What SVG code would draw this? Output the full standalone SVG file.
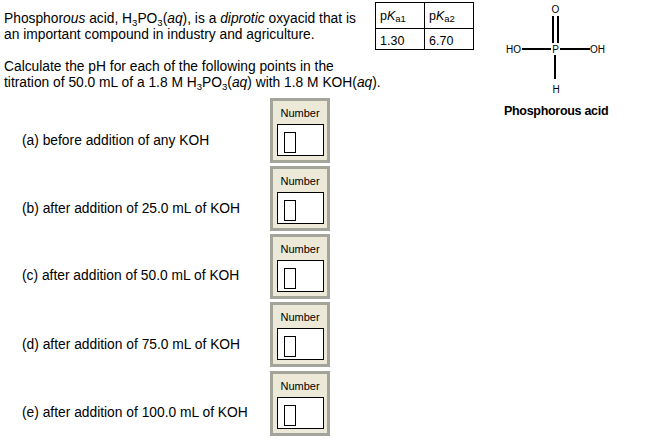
<svg xmlns="http://www.w3.org/2000/svg" width="661" height="443" viewBox="0 0 661 443">
<style>
text{font-family:"Liberation Sans",Arial,sans-serif;font-size:13.8px;fill:#000}
.s{font-size:9.5px}
.num{font-size:11px}
.t{font-size:12.5px}
.m{font-size:10px}
.box{fill:#ece9d8;stroke:#a3a59a;stroke-width:3}
.in{fill:#fff;stroke:#000;stroke-width:1}
.b{stroke:#000;stroke-width:2}
</style>
<rect width="661" height="443" fill="#fff"/>
<text x="4" y="23">Phosphor<tspan font-style="italic">ous</tspan> acid, H<tspan class="s" dy="3">3</tspan><tspan dy="-3">PO</tspan><tspan class="s" dy="3">3</tspan><tspan dy="-3">(</tspan><tspan font-style="italic">aq</tspan>), is a <tspan font-style="italic">diprotic</tspan> oxyacid that is</text>
<text x="4" y="39">an important compound in industry and agriculture.</text>
<text x="4" y="71">Calculate the pH for each of the following points in the</text>
<text x="4" y="87">titration of 50.0 mL of a 1.8 M H<tspan class="s" dy="3">3</tspan><tspan dy="-3">PO</tspan><tspan class="s" dy="3">3</tspan><tspan dy="-3">(</tspan><tspan font-style="italic">aq</tspan>) with 1.8 M KOH(<tspan font-style="italic">aq</tspan>).</text>
<g id="table" fill="none" stroke="#000">
<rect x="375.5" y="2.5" width="98" height="47"/>
<line x1="424.5" y1="2" x2="424.5" y2="50"/>
<line x1="375" y1="28.5" x2="474" y2="28.5"/>
</g>
<text class="t" x="380" y="20">p<tspan font-style="italic">K</tspan><tspan class="s" dy="2">a1</tspan></text>
<text class="t" x="429" y="20">p<tspan font-style="italic">K</tspan><tspan class="s" dy="2">a2</tspan></text>
<text class="t" x="380" y="45">1.30</text>
<text class="t" x="429" y="45">6.70</text>
<g id="molecule">
<line class="b" x1="553" y1="16" x2="553" y2="43"/>
<line class="b" x1="558" y1="16" x2="558" y2="43"/>
<line class="b" x1="522" y1="49" x2="551" y2="49"/>
<line class="b" x1="560" y1="49" x2="590" y2="49"/>
<line class="b" x1="555" y1="55" x2="555" y2="79"/>
<text class="m" x="555.5" y="13" text-anchor="middle">O</text>
<text class="m" x="555.5" y="53" text-anchor="middle">P</text>
<text class="m" x="506" y="53">HO</text>
<text class="m" x="590" y="53">OH</text>
<text class="m" x="556" y="93" text-anchor="middle">H</text>
<text x="504" y="115" style="font-weight:bold;font-size:12.5px;letter-spacing:-0.3px">Phosphorous acid</text>
</g>
<g id="a"><text x="22" y="145">(a) before addition of any KOH</text>
<rect class="box" x="271.5" y="99.5" width="57" height="62"/><text class="num" x="300" y="117" text-anchor="middle">Number</text><rect class="in" x="277.5" y="124.5" width="46" height="31"/><rect class="in" x="284.5" y="132.5" width="11" height="20"/></g>
<g id="b"><text x="22" y="213">(b) after addition of 25.0 mL of KOH</text>
<rect class="box" x="271.5" y="167.5" width="57" height="62"/><text class="num" x="300" y="185" text-anchor="middle">Number</text><rect class="in" x="277.5" y="192.5" width="46" height="31"/><rect class="in" x="284.5" y="200.5" width="11" height="20"/></g>
<g id="c"><text x="22" y="280">(c) after addition of 50.0 mL of KOH</text>
<rect class="box" x="271.5" y="235.5" width="57" height="62"/><text class="num" x="300" y="253" text-anchor="middle">Number</text><rect class="in" x="277.5" y="260.5" width="46" height="31"/><rect class="in" x="284.5" y="268.5" width="11" height="20"/></g>
<g id="d"><text x="22" y="349">(d) after addition of 75.0 mL of KOH</text>
<rect class="box" x="271.5" y="303.5" width="57" height="62"/><text class="num" x="300" y="321" text-anchor="middle">Number</text><rect class="in" x="277.5" y="328.5" width="46" height="31"/><rect class="in" x="284.5" y="336.5" width="11" height="20"/></g>
<g id="e"><text x="22" y="417">(e) after addition of 100.0 mL of KOH</text>
<rect class="box" x="271.5" y="372.5" width="57" height="62"/><text class="num" x="300" y="390" text-anchor="middle">Number</text><rect class="in" x="277.5" y="397.5" width="46" height="31"/><rect class="in" x="284.5" y="405.5" width="11" height="20"/></g>
</svg>
